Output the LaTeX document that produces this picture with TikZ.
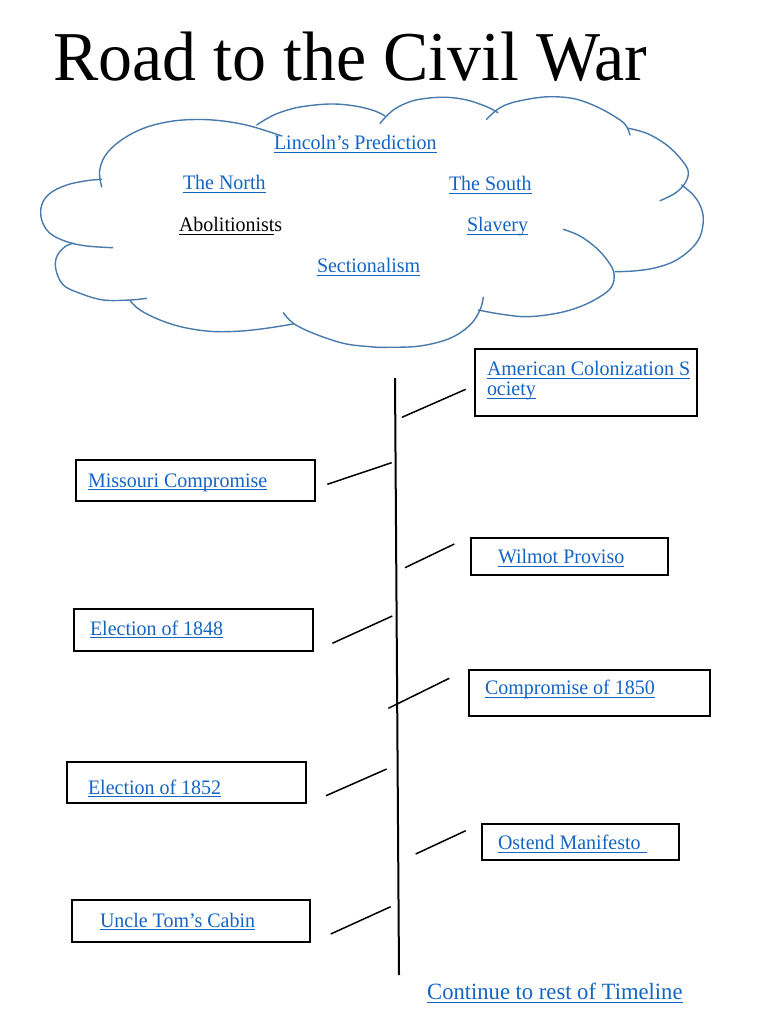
\documentclass[tikz,border=0pt]{standalone}
\usepackage{fontspec}
\setmainfont{Liberation Serif}[FakeStretch=0.97]
\definecolor{linkblue}{RGB}{20,100,195}
\definecolor{cloudblue}{RGB}{72,122,172}
\tikzset{
  lbl/.style={inner sep=0pt, outer sep=0pt, anchor=base west, font=\fontsize{20.6}{24}\selectfont},
  tbox/.style={draw=black, line width=1.3pt, inner sep=0pt, outer sep=0pt, anchor=north west},
  conn/.style={draw=black, line width=1.5pt},
  cloudline/.style={draw=cloudblue, line width=1.4pt, line cap=round},
  uline/.style={line width=1.1pt}
}
\newcommand\ulnode[4][linkblue]{%
  \node[lbl, text=#1] (#2) at #3 {#4};
  \draw[uline, #1] ([yshift=-2.8pt]#2.base west) -- ([yshift=-2.8pt]#2.base east);}
\begin{document}
\begin{tikzpicture}[x=1pt, y=-1pt]
\useasboundingbox (0,0) rectangle (768,1024);

% title
\node[inner sep=0pt, anchor=base west, font=\fontsize{70}{80}\selectfont] (title) at (53,81) {Road to the Civil War};

% cloud
\draw[cloudline] plot[smooth, tension=0.6] coordinates {(101.7,187) (99.5,172) (105,156) (120,141) (143,128.5) (170,121.5) (197,119.5) (223,121) (250,126) (282,136)};
\draw[cloudline] plot[smooth, tension=0.6] coordinates {(256.7,125) (268,118) (280,112.5) (300,107) (330,104) (355,106) (375,111) (385,116)};
\draw[cloudline] plot[smooth, tension=0.6] coordinates {(380,123.3) (393.3,110) (410,101.7) (426.7,98.3) (446.7,97.3) (466.7,100) (486.7,106.7) (498,112.7)};
\draw[cloudline] plot[smooth, tension=0.6] coordinates {(486.7,119.3) (496.7,110) (510,103.3) (533.3,98.3) (553.3,96.7) (576.7,99.3) (600,108.3) (620,120) (626.7,126.7) (630,135)};
\draw[cloudline] plot[smooth, tension=0.6] coordinates {(628.3,128.3) (646.7,133.3) (666.7,145) (681.7,160) (688.3,171.7) (685,183.3) (675,193.3) (660,200.7)};
\draw[cloudline] plot[smooth, tension=0.6] coordinates {(681.7,185) (693.3,195) (700.7,206.7) (703.3,220) (700,236.7) (690,250) (673.3,261.7) (653.3,268.3) (633.3,271) (615,271.7)};
\draw[cloudline] plot[smooth, tension=0.6] coordinates {(563.3,229.3) (580,236) (596.7,248.3) (608.3,261.7) (614,273.3) (611.7,286.7) (600,296.7) (580,306.7) (556.7,313.3) (526.7,316.7) (500,314) (478.3,310)};
\draw[cloudline] plot[smooth, tension=0.6] coordinates {(483.3,297.3) (480,310) (470,325) (450,338.3) (420,346) (386.7,347.3) (370,346.7) (343.3,343.3) (313.3,333.3) (293.3,323.3) (283.3,312.7)};
\draw[cloudline] plot[smooth, tension=0.6] coordinates {(293.3,324) (263.3,328.7) (236.7,331.3) (210,331.3) (183.3,327.3) (160,320) (140,310) (130,300.7)};
\draw[cloudline] plot[smooth, tension=0.6] coordinates {(146.7,298.3) (130,300) (103.3,300) (80,293.3) (63.3,285) (56,270) (56.7,256.7) (65,246.7) (73.3,243.3)};
\draw[cloudline] plot[smooth, tension=0.6] coordinates {(112.7,247.7) (86.7,246) (66.7,241.7) (50,233.3) (41.7,220) (41.7,205) (50,193.3) (66.7,185) (86.7,180.7) (101.7,179.3)};

% cloud texts
\ulnode{lincoln}{(274,149.5)}{Lincoln’s Prediction}
\ulnode{north}{(183,190)}{The North}
\ulnode{south}{(449,190.5)}{The South}
\ulnode[black]{abol}{(179,231.5)}{Abolitionist}
\node[lbl] (abols) at (abol.base east) {s};
\ulnode{slavery}{(467,231.5)}{Slavery}
\ulnode{section}{(317,272.5)}{Sectionalism}

% timeline
\coordinate (tltop) at (395,378);
\coordinate (tlbot) at (399,975);
\draw[draw=black, line width=2pt] (tltop) -- (tlbot);

% boxes
\node[tbox, minimum width=222pt, minimum height=67pt] (acsbox) at (475,349) {};
\node[tbox, minimum width=239pt, minimum height=41pt] (mobox) at (76,460) {};
\node[tbox, minimum width=197pt, minimum height=37pt] (wpbox) at (471,538) {};
\node[tbox, minimum width=239pt, minimum height=42pt] (e48box) at (74,609) {};
\node[tbox, minimum width=241pt, minimum height=46pt] (c50box) at (469,670) {};
\node[tbox, minimum width=239pt, minimum height=41pt] (e52box) at (67,762) {};
\node[tbox, minimum width=197pt, minimum height=36pt] (osbox) at (482,824) {};
\node[tbox, minimum width=238pt, minimum height=42pt] (utbox) at (72,900) {};

% box texts
\ulnode{acs1}{(487,375.5)}{American Colonization S}
\ulnode{acs2}{(487,395.5)}{ociety}
\ulnode{mo}{(88,487)}{Missouri Compromise}
\ulnode{wp}{(498,563.5)}{Wilmot Proviso}
\ulnode{e48}{(90,635)}{Election of 1848}
\ulnode{c50}{(485,694.5)}{Compromise of 1850}
\ulnode{e52}{(88,794)}{Election of 1852}
\ulnode{os}{(498,849.3)}{Ostend Manifesto\hspace*{6pt}\mbox{}}
\ulnode{ut}{(100,927)}{Uncle Tom’s Cabin}

% connectors
\coordinate (k1a) at (402,417.3);   \coordinate (k1b) at (465.7,389.3);
\coordinate (k2a) at (327.3,484.3); \coordinate (k2b) at (391.7,462.7);
\coordinate (k3a) at (405,567.7);   \coordinate (k3b) at (454.3,544);
\coordinate (k4a) at (332.3,643.3); \coordinate (k4b) at (392.3,616);
\coordinate (k5a) at (388.3,708.3); \coordinate (k5b) at (449.3,678.3);
\coordinate (k6a) at (326,795.7);   \coordinate (k6b) at (386.7,769);
\coordinate (k7a) at (415.7,854);   \coordinate (k7b) at (465.7,830.7);
\coordinate (k8a) at (330.7,934);   \coordinate (k8b) at (390.7,906.7);
\foreach \i in {1,...,8} {\draw[conn] (k\i a) -- (k\i b);}

% continue link
\node[inner sep=0pt, anchor=base west, text=linkblue, font=\fontsize{23.3}{28}\selectfont] (cont) at (427,999.5) {Continue to rest of Timeline};
\draw[uline, linkblue, line width=1.3pt] ([yshift=-3.2pt]cont.base west) -- ([yshift=-3.2pt]cont.base east);
\end{tikzpicture}
\end{document}
